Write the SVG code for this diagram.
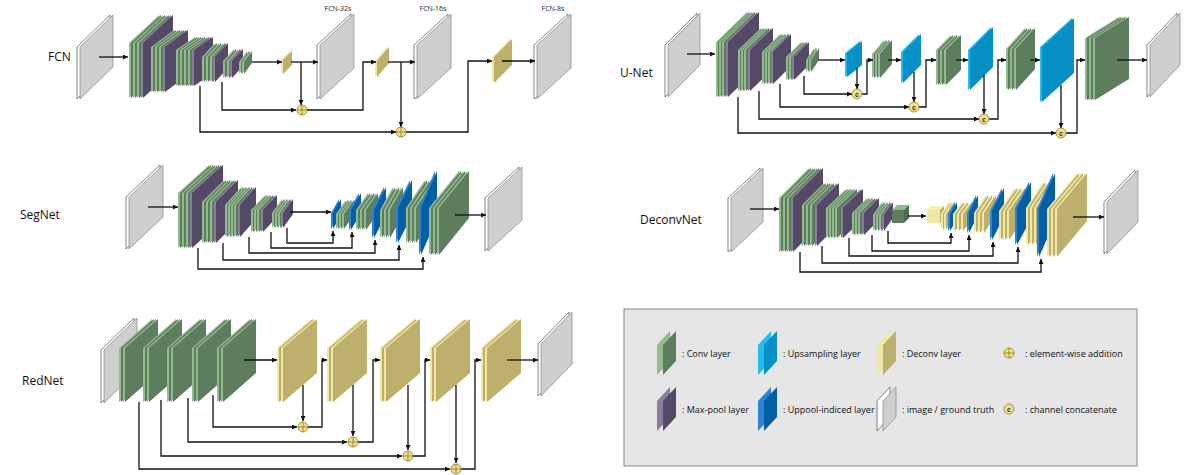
<svg xmlns="http://www.w3.org/2000/svg" xmlns:xlink="http://www.w3.org/1999/xlink" width="1200" height="475" viewBox="0 0 1200 475">
<style>
.gL{fill:#93b98e}.gD{fill:#5e7d5e}.pL{fill:#8a7d9e}.pD{fill:#544966}
.yL{fill:#f2e6a4}.yD{fill:#bdb06c}.uL{fill:#22bdf2}.uD{fill:#0790c6}
.bL{fill:#2b84d6}.bD{fill:#035ea3}.iL{fill:#fff;stroke:#666;stroke-width:.8}.iD{fill:#cfcfcf;stroke:#777;stroke-width:.6}
.ln{fill:none;stroke:#111;stroke-width:1.3}
.ar{marker-end:url(#ah)}
.ci{fill:#f3df86;stroke:#8a7a30;stroke-width:.8}
.cx{stroke:#8a7a30;stroke-width:.8}
.nm{font-family:"Open Sans","Liberation Sans",sans-serif;font-size:12px;fill:#111}
.sm{font-family:"Open Sans","Liberation Sans",sans-serif;font-size:7px;fill:#222}
.lg{font-family:"Open Sans","Liberation Sans",sans-serif;font-size:9px;fill:#111}
.cc{font-family:"Liberation Sans",sans-serif;font-size:7px;font-weight:bold;fill:#333}
</style>
<defs>
<rect id="u" width="1" height="1" vector-effect="non-scaling-stroke"/>
<marker id="ah" viewBox="0 0 6 6" refX="6" refY="3" markerWidth="5" markerHeight="5" markerUnits="userSpaceOnUse" orient="auto"><path d="M0,0L6,3L0,6z" fill="#111"/></marker>
<g id="add"><circle r="5" class="ci"/><path d="M-5,0H5M0,-5V5" class="cx"/></g>
<g id="cat"><circle r="5" class="ci"/><text y="2.5" text-anchor="middle" class="cc">c</text></g>
</defs>
<rect width="1200" height="475" fill="#fff"/>

<!-- FCN -->
<text x="48" y="61" class="nm">FCN</text>
<text x="338" y="11" class="sm" text-anchor="middle">FCN-32s</text>
<text x="433" y="11" class="sm" text-anchor="middle">FCN-16s</text>
<text x="553" y="11" class="sm" text-anchor="middle">FCN-8s</text>
<g id="fcn-in"><use href="#u" class="iL" transform="matrix(33 -32 0 52 77 47)"/><use href="#u" class="iD" transform="matrix(33 -32 0 52 80 47)"/></g>
<g id="fcn-b1">
<use href="#u" class="gL" transform="matrix(30 -28 0 55 129 43)"/><use href="#u" class="gD" transform="matrix(30 -28 0 55 131 43)"/>
<use href="#u" class="gL" transform="matrix(30 -28 0 55 133 43)"/><use href="#u" class="gD" transform="matrix(30 -28 0 55 135 43)"/>
<use href="#u" class="gL" transform="matrix(30 -28 0 55 137 43)"/><use href="#u" class="gD" transform="matrix(30 -28 0 55 139 43)"/>
<use href="#u" class="pL" transform="matrix(30 -28 0 55 141 43)"/><use href="#u" class="pD" transform="matrix(30 -28 0 55 143 43)"/></g>
<g id="fcn-b2">
<use href="#u" class="gL" transform="matrix(23 -17 0 45 151 47)"/><use href="#u" class="gD" transform="matrix(23 -17 0 45 153 47)"/>
<use href="#u" class="gL" transform="matrix(23 -17 0 45 155 47)"/><use href="#u" class="gD" transform="matrix(23 -17 0 45 157 47)"/>
<use href="#u" class="gL" transform="matrix(23 -17 0 45 159 47)"/><use href="#u" class="gD" transform="matrix(23 -17 0 45 161 47)"/>
<use href="#u" class="pL" transform="matrix(23 -17 0 45 163 47)"/><use href="#u" class="pD" transform="matrix(23 -17 0 45 165 47)"/></g>
<g id="fcn-b3">
<use href="#u" class="gL" transform="matrix(19 -13 0 36 176 50)"/><use href="#u" class="gD" transform="matrix(19 -13 0 36 178 50)"/>
<use href="#u" class="gL" transform="matrix(19 -13 0 36 180 50)"/><use href="#u" class="gD" transform="matrix(19 -13 0 36 182 50)"/>
<use href="#u" class="gL" transform="matrix(19 -13 0 36 184 50)"/><use href="#u" class="gD" transform="matrix(19 -13 0 36 186 50)"/>
<use href="#u" class="gL" transform="matrix(19 -13 0 36 188 50)"/><use href="#u" class="gD" transform="matrix(19 -13 0 36 190 50)"/>
<use href="#u" class="pL" transform="matrix(19 -13 0 36 192 50)"/><use href="#u" class="pD" transform="matrix(19 -13 0 36 194 50)"/></g>
<g id="fcn-b4">
<use href="#u" class="gL" transform="matrix(13 -14 0 25 202 57)"/><use href="#u" class="gD" transform="matrix(13 -14 0 25 204 57)"/>
<use href="#u" class="gL" transform="matrix(13 -14 0 25 206 57)"/><use href="#u" class="gD" transform="matrix(13 -14 0 25 208 57)"/>
<use href="#u" class="gL" transform="matrix(13 -14 0 25 210 57)"/><use href="#u" class="gD" transform="matrix(13 -14 0 25 212 57)"/>
<use href="#u" class="pL" transform="matrix(13 -14 0 25 213 57)"/><use href="#u" class="pD" transform="matrix(13 -14 0 25 215 57)"/></g>
<g id="fcn-b5">
<use href="#u" class="gL" transform="matrix(11 -12 0 17 223 61)"/><use href="#u" class="gD" transform="matrix(11 -12 0 17 225 61)"/>
<use href="#u" class="gL" transform="matrix(11 -12 0 17 227 61)"/><use href="#u" class="gD" transform="matrix(11 -12 0 17 229 61)"/>
<use href="#u" class="pL" transform="matrix(11 -12 0 17 230 61)"/><use href="#u" class="pD" transform="matrix(11 -12 0 17 232 61)"/></g>
<g id="fcn-b6">
<use href="#u" class="gL" transform="matrix(8 -11 0 12 239 62)"/><use href="#u" class="gD" transform="matrix(8 -11 0 12 241 62)"/>
<use href="#u" class="gL" transform="matrix(8 -11 0 12 242 62)"/><use href="#u" class="gD" transform="matrix(8 -11 0 12 244 62)"/></g>
<g id="fcn-d1"><use href="#u" class="yL" transform="matrix(9 -9 0 14 281 60)"/><use href="#u" class="yD" transform="matrix(9 -9 0 14 283 60)"/></g>
<g id="fcn-o1"><use href="#u" class="iL" transform="matrix(34 -31 0 54 317 45)"/><use href="#u" class="iD" transform="matrix(34 -31 0 54 320 45)"/></g>
<g id="fcn-d2"><use href="#u" class="yL" transform="matrix(12 -14 0 16 375 61)"/><use href="#u" class="yD" transform="matrix(12 -14 0 16 377 61)"/></g>
<g id="fcn-o2"><use href="#u" class="iL" transform="matrix(34 -31 0 54 414 45)"/><use href="#u" class="iD" transform="matrix(34 -31 0 54 417 45)"/></g>
<g id="fcn-d3"><use href="#u" class="yL" transform="matrix(18 -18 0 26 492 57)"/><use href="#u" class="yD" transform="matrix(18 -18 0 26 494 57)"/></g>
<g id="fcn-o3"><use href="#u" class="iL" transform="matrix(34 -31 0 54 534 45)"/><use href="#u" class="iD" transform="matrix(34 -31 0 54 537 45)"/></g>

<!-- U-Net -->
<text x="620" y="77" class="nm">U-Net</text>
<g id="un-in"><use href="#u" class="iL" transform="matrix(32 -32 0 52 665 45)"/><use href="#u" class="iD" transform="matrix(32 -32 0 52 668 45)"/></g>
<g id="un-b1">
<use href="#u" class="gL" transform="matrix(31 -30 0 55 716 42)"/><use href="#u" class="gD" transform="matrix(31 -30 0 55 718 42)"/>
<use href="#u" class="gL" transform="matrix(31 -30 0 55 719 42)"/><use href="#u" class="gD" transform="matrix(31 -30 0 55 721 42)"/>
<use href="#u" class="gL" transform="matrix(31 -30 0 55 722 42)"/><use href="#u" class="gD" transform="matrix(31 -30 0 55 724 42)"/>
<use href="#u" class="pL" transform="matrix(31 -30 0 55 726 42)"/><use href="#u" class="pD" transform="matrix(31 -30 0 55 728 42)"/></g>
<g id="un-b2">
<use href="#u" class="gL" transform="matrix(23 -22 0 41 738 50)"/><use href="#u" class="gD" transform="matrix(23 -22 0 41 740 50)"/>
<use href="#u" class="gL" transform="matrix(23 -22 0 41 741 50)"/><use href="#u" class="gD" transform="matrix(23 -22 0 41 743 50)"/>
<use href="#u" class="gL" transform="matrix(23 -22 0 41 744 50)"/><use href="#u" class="gD" transform="matrix(23 -22 0 41 746 50)"/>
<use href="#u" class="pL" transform="matrix(23 -22 0 41 748 50)"/><use href="#u" class="pD" transform="matrix(23 -22 0 41 750 50)"/></g>
<g id="un-b3">
<use href="#u" class="gL" transform="matrix(18 -18 0 32 762 52)"/><use href="#u" class="gD" transform="matrix(18 -18 0 32 764 52)"/>
<use href="#u" class="gL" transform="matrix(18 -18 0 32 765 52)"/><use href="#u" class="gD" transform="matrix(18 -18 0 32 767 52)"/>
<use href="#u" class="gL" transform="matrix(18 -18 0 32 768 52)"/><use href="#u" class="gD" transform="matrix(18 -18 0 32 770 52)"/>
<use href="#u" class="pL" transform="matrix(18 -18 0 32 771 52)"/><use href="#u" class="pD" transform="matrix(18 -18 0 32 773 52)"/></g>
<g id="un-b4">
<use href="#u" class="gL" transform="matrix(15 -15 0 23 786 57)"/><use href="#u" class="gD" transform="matrix(15 -15 0 23 788 57)"/>
<use href="#u" class="gL" transform="matrix(15 -15 0 23 789 57)"/><use href="#u" class="gD" transform="matrix(15 -15 0 23 791 57)"/>
<use href="#u" class="pL" transform="matrix(15 -15 0 23 792 57)"/><use href="#u" class="pD" transform="matrix(15 -15 0 23 794 57)"/></g>
<g id="un-b5">
<use href="#u" class="gL" transform="matrix(8 -12 0 12 806 60)"/><use href="#u" class="gD" transform="matrix(8 -12 0 12 808 60)"/>
<use href="#u" class="gL" transform="matrix(8 -12 0 12 809 60)"/><use href="#u" class="gD" transform="matrix(8 -12 0 12 811 60)"/></g>
<g id="un-u1"><use href="#u" class="uL" transform="matrix(15 -12 0 24 845 53)"/><use href="#u" class="uD" transform="matrix(15 -12 0 24 847 53)"/></g>
<g id="un-c2">
<use href="#u" class="gL" transform="matrix(12 -14 0 24 872 54)"/><use href="#u" class="gD" transform="matrix(12 -14 0 24 874 54)"/>
<use href="#u" class="gL" transform="matrix(12 -14 0 24 875 54)"/><use href="#u" class="gD" transform="matrix(12 -14 0 24 877 54)"/>
<use href="#u" class="gL" transform="matrix(12 -14 0 24 878 54)"/><use href="#u" class="gD" transform="matrix(12 -14 0 24 880 54)"/></g>
<g id="un-u2"><use href="#u" class="uL" transform="matrix(18 -18 0 31 901 52)"/><use href="#u" class="uD" transform="matrix(18 -18 0 31 903 52)"/></g>
<g id="un-c3">
<use href="#u" class="gL" transform="matrix(15 -15 0 35 936 50)"/><use href="#u" class="gD" transform="matrix(15 -15 0 35 938 50)"/>
<use href="#u" class="gL" transform="matrix(15 -15 0 35 940 50)"/><use href="#u" class="gD" transform="matrix(15 -15 0 35 942 50)"/>
<use href="#u" class="gL" transform="matrix(15 -15 0 35 944 50)"/><use href="#u" class="gD" transform="matrix(15 -15 0 35 946 50)"/></g>
<g id="un-u3"><use href="#u" class="uL" transform="matrix(23 -23 0 40 968 50)"/><use href="#u" class="uD" transform="matrix(23 -23 0 40 970 50)"/></g>
<g id="un-c4">
<use href="#u" class="gL" transform="matrix(19 -21 0 41 1006 49)"/><use href="#u" class="gD" transform="matrix(19 -21 0 41 1008 49)"/>
<use href="#u" class="gL" transform="matrix(19 -21 0 41 1010 49)"/><use href="#u" class="gD" transform="matrix(19 -21 0 41 1012 49)"/>
<use href="#u" class="gL" transform="matrix(19 -21 0 41 1014 49)"/><use href="#u" class="gD" transform="matrix(19 -21 0 41 1016 49)"/></g>
<g id="un-u4"><use href="#u" class="uL" transform="matrix(32 -29 0 55 1040 47)"/><use href="#u" class="uD" transform="matrix(32 -29 0 55 1042 47)"/></g>
<g id="un-c5">
<use href="#u" class="gL" transform="matrix(34 -21 0 62 1085 38)"/><use href="#u" class="gD" transform="matrix(34 -21 0 62 1087 38)"/>
<use href="#u" class="gL" transform="matrix(34 -21 0 62 1089 38)"/><use href="#u" class="gD" transform="matrix(34 -21 0 62 1091 38)"/>
<use href="#u" class="gL" transform="matrix(34 -21 0 62 1093 38)"/><use href="#u" class="gD" transform="matrix(34 -21 0 62 1095 38)"/></g>
<g id="un-out"><use href="#u" class="iL" transform="matrix(30 -32 0 52 1147 45)"/><use href="#u" class="iD" transform="matrix(30 -32 0 52 1150 45)"/></g>

<!-- SegNet -->
<text x="20" y="219" class="nm">SegNet</text>
<g id="sg-in"><use href="#u" class="iL" transform="matrix(34 -32 0 52 126 197)"/><use href="#u" class="iD" transform="matrix(34 -32 0 52 129 197)"/></g>
<g id="sg-b1">
<use href="#u" class="gL" transform="matrix(31 -28 0 55 178 193)"/><use href="#u" class="gD" transform="matrix(31 -28 0 55 180 193)"/>
<use href="#u" class="gL" transform="matrix(31 -28 0 55 182 193)"/><use href="#u" class="gD" transform="matrix(31 -28 0 55 184 193)"/>
<use href="#u" class="gL" transform="matrix(31 -28 0 55 186 193)"/><use href="#u" class="gD" transform="matrix(31 -28 0 55 188 193)"/>
<use href="#u" class="pL" transform="matrix(31 -28 0 55 190 193)"/><use href="#u" class="pD" transform="matrix(31 -28 0 55 192 193)"/></g>
<g id="sg-b2">
<use href="#u" class="gL" transform="matrix(22 -22 0 41 202 202)"/><use href="#u" class="gD" transform="matrix(22 -22 0 41 204 202)"/>
<use href="#u" class="gL" transform="matrix(22 -22 0 41 206 202)"/><use href="#u" class="gD" transform="matrix(22 -22 0 41 208 202)"/>
<use href="#u" class="gL" transform="matrix(22 -22 0 41 210 202)"/><use href="#u" class="gD" transform="matrix(22 -22 0 41 212 202)"/>
<use href="#u" class="pL" transform="matrix(22 -22 0 41 214 202)"/><use href="#u" class="pD" transform="matrix(22 -22 0 41 216 202)"/></g>
<g id="sg-b3">
<use href="#u" class="gL" transform="matrix(16 -18 0 32 225 205)"/><use href="#u" class="gD" transform="matrix(16 -18 0 32 227 205)"/>
<use href="#u" class="gL" transform="matrix(16 -18 0 32 228 205)"/><use href="#u" class="gD" transform="matrix(16 -18 0 32 230 205)"/>
<use href="#u" class="gL" transform="matrix(16 -18 0 32 231 205)"/><use href="#u" class="gD" transform="matrix(16 -18 0 32 233 205)"/>
<use href="#u" class="gL" transform="matrix(16 -18 0 32 234 205)"/><use href="#u" class="gD" transform="matrix(16 -18 0 32 236 205)"/>
<use href="#u" class="pL" transform="matrix(16 -18 0 32 238 205)"/><use href="#u" class="pD" transform="matrix(16 -18 0 32 240 205)"/></g>
<g id="sg-b4">
<use href="#u" class="gL" transform="matrix(14 -15 0 22 251 210)"/><use href="#u" class="gD" transform="matrix(14 -15 0 22 253 210)"/>
<use href="#u" class="gL" transform="matrix(14 -15 0 22 254 210)"/><use href="#u" class="gD" transform="matrix(14 -15 0 22 256 210)"/>
<use href="#u" class="gL" transform="matrix(14 -15 0 22 257 210)"/><use href="#u" class="gD" transform="matrix(14 -15 0 22 259 210)"/>
<use href="#u" class="pL" transform="matrix(14 -15 0 22 261 210)"/><use href="#u" class="pD" transform="matrix(14 -15 0 22 263 210)"/></g>
<g id="sg-b5">
<use href="#u" class="gL" transform="matrix(10 -14 0 15 272 213)"/><use href="#u" class="gD" transform="matrix(10 -14 0 15 274 213)"/>
<use href="#u" class="gL" transform="matrix(10 -14 0 15 275 213)"/><use href="#u" class="gD" transform="matrix(10 -14 0 15 277 213)"/>
<use href="#u" class="gL" transform="matrix(10 -14 0 15 278 213)"/><use href="#u" class="gD" transform="matrix(10 -14 0 15 280 213)"/>
<use href="#u" class="pL" transform="matrix(10 -14 0 15 281 213)"/><use href="#u" class="pD" transform="matrix(10 -14 0 15 283 213)"/></g>
<g id="sg-d1">
<use href="#u" class="bL" transform="matrix(8 -14 0 16 331 213)"/><use href="#u" class="bD" transform="matrix(8 -14 0 16 333 213)"/>
<use href="#u" class="gL" transform="matrix(10 -14 0 15 336 214)"/><use href="#u" class="gD" transform="matrix(10 -14 0 15 338 214)"/>
<use href="#u" class="gL" transform="matrix(10 -14 0 15 339 214)"/><use href="#u" class="gD" transform="matrix(10 -14 0 15 341 214)"/>
<use href="#u" class="gL" transform="matrix(10 -14 0 15 342 214)"/><use href="#u" class="gD" transform="matrix(10 -14 0 15 344 214)"/></g>
<g id="sg-d2">
<use href="#u" class="bL" transform="matrix(10 -17 0 20 349 210)"/><use href="#u" class="bD" transform="matrix(10 -17 0 20 351 210)"/>
<use href="#u" class="gL" transform="matrix(12 -17 0 20 356 210)"/><use href="#u" class="gD" transform="matrix(12 -17 0 20 358 210)"/>
<use href="#u" class="gL" transform="matrix(12 -17 0 20 360 210)"/><use href="#u" class="gD" transform="matrix(12 -17 0 20 362 210)"/>
<use href="#u" class="gL" transform="matrix(12 -17 0 20 364 210)"/><use href="#u" class="gD" transform="matrix(12 -17 0 20 366 210)"/></g>
<g id="sg-d3">
<use href="#u" class="bL" transform="matrix(12 -23 0 28 372 210)"/><use href="#u" class="bD" transform="matrix(12 -23 0 28 374 210)"/>
<use href="#u" class="gL" transform="matrix(13 -23 0 28 380 210)"/><use href="#u" class="gD" transform="matrix(13 -23 0 28 382 210)"/>
<use href="#u" class="gL" transform="matrix(13 -23 0 28 384 210)"/><use href="#u" class="gD" transform="matrix(13 -23 0 28 386 210)"/>
<use href="#u" class="gL" transform="matrix(13 -23 0 28 388 210)"/><use href="#u" class="gD" transform="matrix(13 -23 0 28 390 210)"/></g>
<g id="sg-d4">
<use href="#u" class="bL" transform="matrix(14 -28 0 35 396 208)"/><use href="#u" class="bD" transform="matrix(14 -28 0 35 398 208)"/>
<use href="#u" class="gL" transform="matrix(19 -28 0 35 406 208)"/><use href="#u" class="gD" transform="matrix(19 -28 0 35 408 208)"/>
<use href="#u" class="gL" transform="matrix(19 -28 0 35 410 208)"/><use href="#u" class="gD" transform="matrix(19 -28 0 35 412 208)"/>
<use href="#u" class="gL" transform="matrix(19 -28 0 35 414 208)"/><use href="#u" class="gD" transform="matrix(19 -28 0 35 416 208)"/></g>
<g id="sg-d5">
<use href="#u" class="bL" transform="matrix(16 -37 0 47 419 208)"/><use href="#u" class="bD" transform="matrix(16 -37 0 47 421 208)"/>
<use href="#u" class="gL" transform="matrix(30 -37 0 47 429 208)"/><use href="#u" class="gD" transform="matrix(30 -37 0 47 431 208)"/>
<use href="#u" class="gL" transform="matrix(30 -37 0 47 433 208)"/><use href="#u" class="gD" transform="matrix(30 -37 0 47 435 208)"/>
<use href="#u" class="gL" transform="matrix(30 -37 0 47 437 208)"/><use href="#u" class="gD" transform="matrix(30 -37 0 47 439 208)"/></g>
<g id="sg-out"><use href="#u" class="iL" transform="matrix(34 -31 0 53 485 198)"/><use href="#u" class="iD" transform="matrix(34 -31 0 53 488 198)"/></g>

<!-- DeconvNet -->
<text x="640" y="224" class="nm">DeconvNet</text>
<g id="dc-in"><use href="#u" class="iL" transform="matrix(32 -30 0 54 728 198)"/><use href="#u" class="iD" transform="matrix(32 -30 0 54 731 198)"/></g>
<g id="dc-b1">
<use href="#u" class="gL" transform="matrix(30 -30 0 54 779 198)"/><use href="#u" class="gD" transform="matrix(30 -30 0 54 781 198)"/>
<use href="#u" class="gL" transform="matrix(30 -30 0 54 783 198)"/><use href="#u" class="gD" transform="matrix(30 -30 0 54 785 198)"/>
<use href="#u" class="gL" transform="matrix(30 -30 0 54 787 198)"/><use href="#u" class="gD" transform="matrix(30 -30 0 54 789 198)"/>
<use href="#u" class="pL" transform="matrix(30 -30 0 54 791 198)"/><use href="#u" class="pD" transform="matrix(30 -30 0 54 793 198)"/></g>
<g id="dc-b2">
<use href="#u" class="gL" transform="matrix(22 -22 0 41 802 205)"/><use href="#u" class="gD" transform="matrix(22 -22 0 41 804 205)"/>
<use href="#u" class="gL" transform="matrix(22 -22 0 41 806 205)"/><use href="#u" class="gD" transform="matrix(22 -22 0 41 808 205)"/>
<use href="#u" class="gL" transform="matrix(22 -22 0 41 810 205)"/><use href="#u" class="gD" transform="matrix(22 -22 0 41 812 205)"/>
<use href="#u" class="pL" transform="matrix(22 -22 0 41 815 205)"/><use href="#u" class="pD" transform="matrix(22 -22 0 41 817 205)"/></g>
<g id="dc-b3">
<use href="#u" class="gL" transform="matrix(20 -19 0 30 826 208)"/><use href="#u" class="gD" transform="matrix(20 -19 0 30 828 208)"/>
<use href="#u" class="gL" transform="matrix(20 -19 0 30 829 208)"/><use href="#u" class="gD" transform="matrix(20 -19 0 30 831 208)"/>
<use href="#u" class="gL" transform="matrix(20 -19 0 30 832 208)"/><use href="#u" class="gD" transform="matrix(20 -19 0 30 834 208)"/>
<use href="#u" class="gL" transform="matrix(20 -19 0 30 835 208)"/><use href="#u" class="gD" transform="matrix(20 -19 0 30 837 208)"/>
<use href="#u" class="pL" transform="matrix(20 -19 0 30 841 208)"/><use href="#u" class="pD" transform="matrix(20 -19 0 30 843 208)"/></g>
<g id="dc-b4">
<use href="#u" class="gL" transform="matrix(15 -15 0 22 852 213)"/><use href="#u" class="gD" transform="matrix(15 -15 0 22 854 213)"/>
<use href="#u" class="gL" transform="matrix(15 -15 0 22 855 213)"/><use href="#u" class="gD" transform="matrix(15 -15 0 22 857 213)"/>
<use href="#u" class="gL" transform="matrix(15 -15 0 22 858 213)"/><use href="#u" class="gD" transform="matrix(15 -15 0 22 860 213)"/>
<use href="#u" class="pL" transform="matrix(15 -15 0 22 862 213)"/><use href="#u" class="pD" transform="matrix(15 -15 0 22 864 213)"/></g>
<g id="dc-b5">
<use href="#u" class="gL" transform="matrix(9 -13 0 16 873 215)"/><use href="#u" class="gD" transform="matrix(9 -13 0 16 875 215)"/>
<use href="#u" class="gL" transform="matrix(9 -13 0 16 876 215)"/><use href="#u" class="gD" transform="matrix(9 -13 0 16 878 215)"/>
<use href="#u" class="gL" transform="matrix(9 -13 0 16 879 215)"/><use href="#u" class="gD" transform="matrix(9 -13 0 16 881 215)"/>
<use href="#u" class="pL" transform="matrix(9 -13 0 16 882 215)"/><use href="#u" class="pD" transform="matrix(9 -13 0 16 884 215)"/></g>
<g id="dc-fc1"><polygon points="892,210 897,205 909,205 904,210" class="gL"/><rect x="892" y="210" width="12" height="13" class="gD"/><polygon points="904,210 909,205 909,218 904,223" fill="#4d6a4d"/></g>
<g id="dc-fc2"><polygon points="927,210 931,206 944,206 940,210" fill="#f7eeb8"/><rect x="927" y="210" width="13" height="13" class="yL"/><polygon points="940,210 944,206 944,219 940,223" class="yD"/></g>
<g id="dc-d0">
<use href="#u" class="yL" transform="matrix(8 -12 0 16 941 214)"/><use href="#u" class="yD" transform="matrix(8 -12 0 16 943 214)"/>
<use href="#u" class="yL" transform="matrix(8 -12 0 16 944 214)"/><use href="#u" class="yD" transform="matrix(8 -12 0 16 946 214)"/></g>
<g id="dc-d1">
<use href="#u" class="bL" transform="matrix(7 -12 0 17 948 214)"/><use href="#u" class="bD" transform="matrix(7 -12 0 17 950 214)"/>
<use href="#u" class="yL" transform="matrix(9 -12 0 17 953 214)"/><use href="#u" class="yD" transform="matrix(9 -12 0 17 955 214)"/>
<use href="#u" class="yL" transform="matrix(9 -12 0 17 957 214)"/><use href="#u" class="yD" transform="matrix(9 -12 0 17 959 214)"/>
<use href="#u" class="yL" transform="matrix(9 -12 0 17 961 214)"/><use href="#u" class="yD" transform="matrix(9 -12 0 17 963 214)"/></g>
<g id="dc-d2">
<use href="#u" class="bL" transform="matrix(9 -18 0 20 967 213)"/><use href="#u" class="bD" transform="matrix(9 -18 0 20 969 213)"/>
<use href="#u" class="yL" transform="matrix(12 -18 0 20 974 213)"/><use href="#u" class="yD" transform="matrix(12 -18 0 20 976 213)"/>
<use href="#u" class="yL" transform="matrix(12 -18 0 20 978 213)"/><use href="#u" class="yD" transform="matrix(12 -18 0 20 980 213)"/>
<use href="#u" class="yL" transform="matrix(12 -18 0 20 982 213)"/><use href="#u" class="yD" transform="matrix(12 -18 0 20 984 213)"/></g>
<g id="dc-d3">
<use href="#u" class="bL" transform="matrix(12 -23 0 29 990 211)"/><use href="#u" class="bD" transform="matrix(12 -23 0 29 992 211)"/>
<use href="#u" class="yL" transform="matrix(16 -23 0 29 999 211)"/><use href="#u" class="yD" transform="matrix(16 -23 0 29 1001 211)"/>
<use href="#u" class="yL" transform="matrix(16 -23 0 29 1003 211)"/><use href="#u" class="yD" transform="matrix(16 -23 0 29 1005 211)"/>
<use href="#u" class="yL" transform="matrix(16 -23 0 29 1007 211)"/><use href="#u" class="yD" transform="matrix(16 -23 0 29 1009 211)"/></g>
<g id="dc-d4">
<use href="#u" class="bL" transform="matrix(14 -26 0 37 1015 208)"/><use href="#u" class="bD" transform="matrix(14 -26 0 37 1017 208)"/>
<use href="#u" class="yL" transform="matrix(17 -26 0 37 1026 208)"/><use href="#u" class="yD" transform="matrix(17 -26 0 37 1028 208)"/>
<use href="#u" class="yL" transform="matrix(17 -26 0 37 1030 208)"/><use href="#u" class="yD" transform="matrix(17 -26 0 37 1032 208)"/>
<use href="#u" class="yL" transform="matrix(17 -26 0 37 1034 208)"/><use href="#u" class="yD" transform="matrix(17 -26 0 37 1036 208)"/></g>
<g id="dc-d5">
<use href="#u" class="bL" transform="matrix(16 -36 0 48 1037 209)"/><use href="#u" class="bD" transform="matrix(16 -36 0 48 1039 209)"/>
<use href="#u" class="yL" transform="matrix(30 -36 0 48 1047 209)"/><use href="#u" class="yD" transform="matrix(30 -36 0 48 1049 209)"/>
<use href="#u" class="yL" transform="matrix(30 -36 0 48 1051 209)"/><use href="#u" class="yD" transform="matrix(30 -36 0 48 1053 209)"/>
<use href="#u" class="yL" transform="matrix(30 -36 0 48 1055 209)"/><use href="#u" class="yD" transform="matrix(30 -36 0 48 1057 209)"/></g>
<g id="dc-out"><use href="#u" class="iL" transform="matrix(31 -32 0 52 1104 202)"/><use href="#u" class="iD" transform="matrix(31 -32 0 52 1107 202)"/></g>

<!-- RedNet -->
<text x="22" y="385" class="nm">RedNet</text>
<g id="rn-in"><use href="#u" class="iL" transform="matrix(33 -32 0 53 101 350)"/><use href="#u" class="iD" transform="matrix(33 -32 0 53 104 350)"/></g>
<g id="rn-c1"><use href="#u" class="gL" transform="matrix(33 -29 0 54 119 348)"/><use href="#u" class="gD" transform="matrix(33 -29 0 54 121 348)"/><use href="#u" class="gL" transform="matrix(33 -29 0 54 123 348)"/><use href="#u" class="gD" transform="matrix(33 -29 0 54 125 348)"/></g>
<g id="rn-c2"><use href="#u" class="gL" transform="matrix(33 -29 0 54 143 348)"/><use href="#u" class="gD" transform="matrix(33 -29 0 54 145 348)"/><use href="#u" class="gL" transform="matrix(33 -29 0 54 147 348)"/><use href="#u" class="gD" transform="matrix(33 -29 0 54 149 348)"/></g>
<g id="rn-c3"><use href="#u" class="gL" transform="matrix(33 -29 0 54 167 348)"/><use href="#u" class="gD" transform="matrix(33 -29 0 54 169 348)"/><use href="#u" class="gL" transform="matrix(33 -29 0 54 171 348)"/><use href="#u" class="gD" transform="matrix(33 -29 0 54 173 348)"/></g>
<g id="rn-c4"><use href="#u" class="gL" transform="matrix(33 -29 0 54 192 348)"/><use href="#u" class="gD" transform="matrix(33 -29 0 54 194 348)"/><use href="#u" class="gL" transform="matrix(33 -29 0 54 196 348)"/><use href="#u" class="gD" transform="matrix(33 -29 0 54 198 348)"/></g>
<g id="rn-c5"><use href="#u" class="gL" transform="matrix(33 -29 0 54 217 348)"/><use href="#u" class="gD" transform="matrix(33 -29 0 54 219 348)"/><use href="#u" class="gL" transform="matrix(33 -29 0 54 221 348)"/><use href="#u" class="gD" transform="matrix(33 -29 0 54 223 348)"/></g>
<g id="rn-d1"><use href="#u" class="yL" transform="matrix(34 -29 0 54 277 348)"/><use href="#u" class="yD" transform="matrix(34 -29 0 54 279 348)"/><use href="#u" class="yL" transform="matrix(34 -29 0 54 281 348)"/><use href="#u" class="yD" transform="matrix(34 -29 0 54 283 348)"/></g>
<g id="rn-d2"><use href="#u" class="yL" transform="matrix(34 -29 0 54 327 348)"/><use href="#u" class="yD" transform="matrix(34 -29 0 54 329 348)"/><use href="#u" class="yL" transform="matrix(34 -29 0 54 331 348)"/><use href="#u" class="yD" transform="matrix(34 -29 0 54 333 348)"/></g>
<g id="rn-d3"><use href="#u" class="yL" transform="matrix(34 -29 0 54 380 348)"/><use href="#u" class="yD" transform="matrix(34 -29 0 54 382 348)"/><use href="#u" class="yL" transform="matrix(34 -29 0 54 384 348)"/><use href="#u" class="yD" transform="matrix(34 -29 0 54 386 348)"/></g>
<g id="rn-d4"><use href="#u" class="yL" transform="matrix(34 -29 0 54 430 348)"/><use href="#u" class="yD" transform="matrix(34 -29 0 54 432 348)"/><use href="#u" class="yL" transform="matrix(34 -29 0 54 434 348)"/><use href="#u" class="yD" transform="matrix(34 -29 0 54 436 348)"/></g>
<g id="rn-d5"><use href="#u" class="yL" transform="matrix(34 -29 0 54 481 348)"/><use href="#u" class="yD" transform="matrix(34 -29 0 54 483 348)"/><use href="#u" class="yL" transform="matrix(34 -29 0 54 485 348)"/><use href="#u" class="yD" transform="matrix(34 -29 0 54 487 348)"/></g>
<g id="rn-out"><use href="#u" class="iL" transform="matrix(31 -32 0 52 538 344)"/><use href="#u" class="iD" transform="matrix(31 -32 0 52 541 344)"/></g>

<!-- connectors -->
<g id="connectors">
<path class="ln ar" d="M99,57H128"/>
<path class="ln ar" d="M252,62H282"/>
<path class="ln ar" d="M291,62H318"/>
<path class="ln ar" d="M301,62V105"/>
<path class="ln ar" d="M222,82V110H296"/>
<path class="ln ar" d="M307,110H363V62H376"/>
<path class="ln ar" d="M388,62H415"/>
<path class="ln ar" d="M401,62V127"/>
<path class="ln ar" d="M200,86V132H396"/>
<path class="ln ar" d="M406,132H468V61H492"/>
<path class="ln ar" d="M502,61H535"/>

<path class="ln ar" d="M687,54H715"/>
<path class="ln ar" d="M818,60H845"/>
<path class="ln ar" d="M857,68V89"/>
<path class="ln ar" d="M804,76V94H852"/>
<path class="ln ar" d="M862,94H867V60H873"/>
<path class="ln ar" d="M888,60H901"/>
<path class="ln ar" d="M914,72V102"/>
<path class="ln ar" d="M780,84V107H909"/>
<path class="ln ar" d="M919,107H926V60H936"/>
<path class="ln ar" d="M956,60H968"/>
<path class="ln ar" d="M984,75V114"/>
<path class="ln ar" d="M759,91V119H979"/>
<path class="ln ar" d="M989,119H998V60H1006"/>
<path class="ln ar" d="M1030,60H1040"/>
<path class="ln ar" d="M1061,85V128"/>
<path class="ln ar" d="M738,97V133H1056"/>
<path class="ln ar" d="M1066,133H1077V60H1085"/>
<path class="ln ar" d="M1117,60H1147"/>

<path class="ln ar" d="M148,207H178"/>
<path class="ln ar" d="M290,212H331"/>
<path class="ln ar" d="M287,228V243H333V231"/>
<path class="ln ar" d="M271,232V248H352V232"/>
<path class="ln ar" d="M249,237V253H375V240"/>
<path class="ln ar" d="M223,243V260H399V245"/>
<path class="ln ar" d="M198,248V269H423V257"/>
<path class="ln ar" d="M455,215H486"/>

<path class="ln ar" d="M750,209H779"/>
<path class="ln ar" d="M908,216H926"/>
<path class="ln ar" d="M888,231V243H951V233"/>
<path class="ln ar" d="M872,235V251H969V235"/>
<path class="ln ar" d="M849,238V256H993V242"/>
<path class="ln ar" d="M822,246V263H1018V247"/>
<path class="ln ar" d="M800,252V272H1041V259"/>
<path class="ln ar" d="M1073,217H1104"/>

<path class="ln ar" d="M244,360H277"/>
<path class="ln ar" d="M303,385V421"/>
<path class="ln ar" d="M353,385V436"/>
<path class="ln ar" d="M408,385V450"/>
<path class="ln ar" d="M456,385V463"/>
<path class="ln ar" d="M213,395V427H297"/>
<path class="ln ar" d="M188,398V442H347"/>
<path class="ln ar" d="M161,400V456H402"/>
<path class="ln ar" d="M139,402V469H450"/>
<path class="ln ar" d="M308,427H322V360H327"/>
<path class="ln ar" d="M358,442H373V360H380"/>
<path class="ln ar" d="M413,456H425V360H430"/>
<path class="ln ar" d="M461,469H475V360H481"/>
<path class="ln ar" d="M507,360H538"/>
</g>
<g id="ops">
<use href="#add" x="302" y="110"/><use href="#add" x="401" y="132"/>
<use href="#cat" x="857" y="94"/><use href="#cat" x="914" y="107"/><use href="#cat" x="984" y="119"/><use href="#cat" x="1061" y="133"/>
<use href="#add" x="303" y="427"/><use href="#add" x="353" y="442"/><use href="#add" x="408" y="456"/><use href="#add" x="456" y="469"/>
</g>

<!-- legend -->
<g id="legend">
<rect x="624" y="309" width="513" height="157" fill="#e6e6e6" stroke="#888" stroke-width="1"/>
<use href="#u" class="gL" transform="matrix(13 -14 0 30 657 345)"/><use href="#u" class="gD" transform="matrix(13 -14 0 30 663 345)"/>
<text x="682" y="357" class="lg">: Conv layer</text>
<use href="#u" class="uL" transform="matrix(13 -14 0 30 758 345)"/><use href="#u" class="uD" transform="matrix(13 -14 0 30 764 345)"/>
<text x="783" y="357" class="lg">: Upsampling layer</text>
<use href="#u" class="yL" transform="matrix(13 -14 0 30 877 345)"/><use href="#u" class="yD" transform="matrix(13 -14 0 30 883 345)"/>
<text x="902" y="357" class="lg">: Deconv layer</text>
<use href="#add" x="1009" y="353"/>
<text x="1025" y="357" class="lg">: element-wise addition</text>
<use href="#u" class="pL" transform="matrix(13 -14 0 30 657 401)"/><use href="#u" class="pD" transform="matrix(13 -14 0 30 663 401)"/>
<text x="682" y="413" class="lg">: Max-pool layer</text>
<use href="#u" class="bL" transform="matrix(13 -14 0 30 758 401)"/><use href="#u" class="bD" transform="matrix(13 -14 0 30 764 401)"/>
<text x="783" y="413" class="lg">: Uppool-indiced layer</text>
<use href="#u" class="iL" transform="matrix(13 -14 0 30 877 401)"/><use href="#u" class="iD" fill="#bbb" transform="matrix(13 -14 0 30 883 401)"/>
<text x="902" y="413" class="lg">: image / ground truth</text>
<use href="#cat" x="1009" y="409"/>
<text x="1025" y="413" class="lg">: channel concatenate</text>
</g>
</svg>
